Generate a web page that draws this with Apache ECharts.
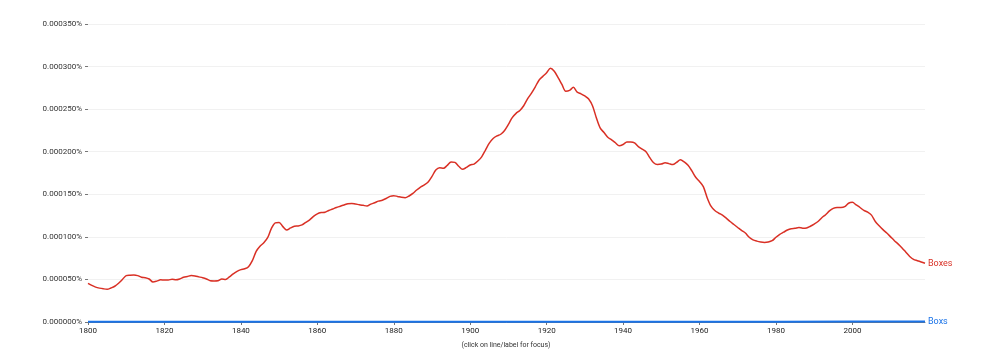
<!DOCTYPE html>
<html>
<head>
<meta charset="utf-8">
<script src="https://cdn.jsdelivr.net/npm/echarts@6/dist/echarts.min.js"></script>
<style>
html,body{margin:0;padding:0;background:#fff;}
#chart{width:1000px;height:358px;}
</style>
</head>
<body>
<div id="chart"></div>
<script>
// Years 1800..2019
const startYear = 1800;
// "Boxes" frequency in units of 1e-6 percent, one per year from 1800
const boxesValues = [
45.4,43,41,39.8,39,38.5,40,42,45.5,50,
54.5,55,55.2,54.5,52.5,52,50.5,47,48,49.5,
49.3,49.3,50.3,49.5,50.5,52.5,53.5,54.5,54,53,
52,50.5,48.5,48.3,48.5,50.5,50,53,56.5,59.5,
61.5,62.5,65,72,83,89,93,99,110,116.5,
117,112,108,110.5,112.5,112.8,114,117,120,124,
127,128.5,129,131,132.7,134.5,136,137.5,139,139.3,
138.5,137.8,137,136.2,138.5,140,142,143,145,147.5,
148.4,147.5,146.5,146,148,151,155,158.5,161,164.5,
171,178.5,181.2,180.5,184,188,187.5,183,179.3,181.5,
184.4,185.5,189,194,202,210,215.5,218.5,220.5,225,
232,240,245,248.5,254,262,268.6,276,284,288.5,
292.8,298,294.5,287,279,271,272,275.6,270,268,
265.5,262,254,240,228,222.5,217,214,210.5,207,
208.5,211.5,211.5,210.5,206,203,200,193,187,185,
185.5,187,186,185,187.5,190.5,188,184,177.5,170,
165,159,146,136,131,128,125.5,122,118,114.5,
111,107.5,104.5,99.5,96.5,95,94,93.5,94,95.5,
99.5,103,105.5,108,109.5,110,111,110.2,110.5,112.5,
115,118,122.5,126,130.5,133.5,134.5,134.5,135.5,139.5,
140.5,137.5,134.5,131,129,125.5,118,113,108.5,104.5,
100,95.5,91.5,87,82,77,73.5,72,70.5,69
];
// "Boxs" frequency (units of 1e-6 percent), sparse readings
const boxsYears  = [1800,1820,1840,1860,1880,1900,1920,1940,1960,1980,2000,2019];
const boxsValues = [0.3,0.3,0.3,0.4,0.4,0.4,0.4,0.4,0.4,0.4,0.5,0.5];

const xTickYears = [1800,1820,1840,1860,1880,1900,1920,1940,1960,1980,2000];
const seriesNames = ['Boxes','Boxs'];
const colors = ['#d93025','#1a73e8'];

const SCALE = 1e-6;
const boxesData = boxesValues.map((v,i)=>[startYear+i, v*SCALE]);
const boxsData = boxsYears.map((y,i)=>[y, boxsValues[i]*SCALE]);

const chart = echarts.init(document.getElementById('chart'), null, {renderer:'canvas'});
const font = 'Roboto, "Open Sans", Arial, sans-serif';
chart.setOption({
  animation:false,
  backgroundColor:'#fff',
  grid:{left:88,right:75,top:24,bottom:36,containLabel:false},
  graphic:[{
    type:'text', x:506, y:342,
    style:{text:'(click on line/label for focus)', fill:'#333', font:'7px '+font, textAlign:'center'}
  }],
  xAxis:{
    type:'value', min:1800, max:2019, interval:20,
    axisLine:{show:true,lineStyle:{color:'#757575',width:1}},
    axisTick:{show:true,length:3,lineStyle:{color:'#757575'},customValues:xTickYears},
    axisLabel:{color:'#222',fontSize:8,fontFamily:font,margin:5,customValues:xTickYears,formatter:v=>String(v)},
    splitLine:{show:false}
  },
  yAxis:{
    type:'value', min:0, max:0.00035, interval:0.00005,
    axisLine:{show:false},
    axisTick:{show:true,length:3,lineStyle:{color:'#777'}},
    axisLabel:{color:'#333',fontSize:8,fontFamily:font,margin:6,
      formatter:v=>(Math.round(v*1e6)/1e6).toFixed(6)+'%'},
    splitLine:{show:true,lineStyle:{color:'#f1f1f1',width:1}}
  },
  series:[
    {name:seriesNames[0],type:'line',data:boxesData,showSymbol:false,smooth:0.3,
     lineStyle:{color:colors[0],width:1.5},itemStyle:{color:colors[0]},
     endLabel:{show:true,formatter:'{a}',color:colors[0],fontSize:9,fontFamily:font,distance:3}},
    {name:seriesNames[1],type:'line',data:boxsData,showSymbol:false,
     lineStyle:{color:colors[1],width:2},itemStyle:{color:colors[1]},
     endLabel:{show:true,formatter:'{a}',color:colors[1],fontSize:9,fontFamily:font,distance:3}}
  ]
});
</script>
</body>
</html>
